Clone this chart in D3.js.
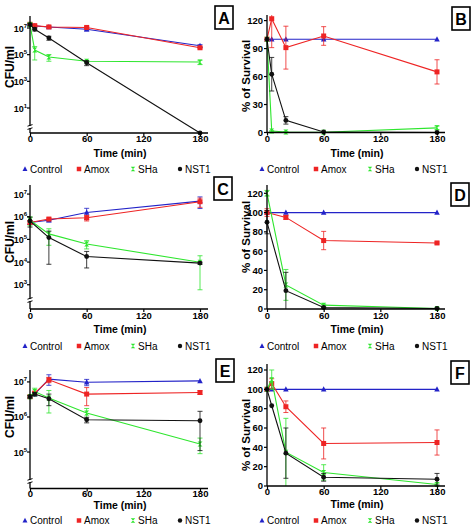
<!DOCTYPE html>
<html><head><meta charset="utf-8">
<script src="https://cdn.jsdelivr.net/npm/d3@7"></script>
<style>
body{margin:0;background:#fff}
svg{display:block}
text{font-family:"Liberation Sans",Arial,Helvetica,sans-serif}
</style>
</head><body>
<svg id="c" width="474" height="531"></svg>
<script>
// ---------------- DATA ----------------
const seriesNames = ["Control", "Amox", "SHa", "NST1"];
const seriesColors = ["#2323c8", "#ee2424", "#2ee62e", "#111111"];

const times5 = [0, 5, 20, 60, 180];
const times4 = [0, 20, 60, 180];
const xTicks = [0, 60, 120, 180];

// Panel A: CFU/ml (log)
const A_control = [1.8e7, 1.4e7, 1.2e7, 8.0e6, 4.7e5];
const A_amox    = [1.9e7, 1.5e7, 1.2e7, 1.1e7, 3.3e5];
const A_sha     = [1.8e7, 2.2e5, 6.6e4, 3.2e4, 2.8e4];
const A_nst1    = [1.8e7, 8.0e6, 1.8e6, 2.5e4, 0];
const A_err = [[4e6, 2e6, 2e6, 2e6, 1e5], [4e6, 2e6, 2e6, 2e6, 5e4], [5e6, 1.8e5, 3.4e4, 5e3, 1e4], [3e6, 2e6, 6e5, 1e4, 0]];

// Panel B: % of survival
const B_control = [100, 100, 100, 100, 100];
const B_amox    = [100, 122, 91, 103.5, 65];
const B_sha     = [100, 1.5, 0.5, 0.3, 5];
const B_nst1    = [100, 62.5, 13, 0.5, 0];
const B_err = [[0, 0, 0, 0, 0], [0, 31, 23, 10, 13], [0, 0.5, 0.5, 0, 2], [0, 18, 4, 0, 0]];

// Panel C: CFU/ml (log)
const C_control = [5.6e5, 7.0e5, 1.55e6, 4.9e6];
const C_amox    = [5.6e5, 7.9e5, 9.0e5, 4.6e6];
const C_sha     = [7.0e5, 1.75e5, 6.3e4, 9.8e3];
const C_nst1    = [6.5e5, 1.2e5, 1.75e4, 9.0e3];
const C_err = [[1e5, 1e5, 8e5, 2.6e6], [1e5, 1e5, 2.5e5, 2e6], [3e5, 1.2e5, 2.5e4, 9.2e3], [3e5, 1.12e5, 1.2e4, 1e3]];

// Panel D: % of survival
const D_control = [100, 100, 100, 100];
const D_amox    = [100, 95, 71, 68.5];
const D_sha     = [120, 25, 4, 0.5];
const D_nst1    = [90, 19, 1.5, 0.5];
const D_err = [[0, 0, 0, 0], [4, 2, 9.5, 1], [3, 16, 1, 0.5], [12, 19, 0.5, 0.5]];

// Panel E: CFU/ml (log)
const E_control = [3.8e6, 4.5e6, 1.2e7, 9.8e6, 1.07e7];
const E_amox    = [3.8e6, 4.8e6, 1.15e7, 4.5e6, 5.0e6];
const E_sha     = [3.8e6, 5.3e6, 3.5e6, 1.3e6, 1.7e5];
const E_nst1    = [3.8e6, 4.5e6, 3.3e6, 8.3e5, 7.8e5];
const E_err = [[3e5, 5e5, 4e6, 2e6, 0], [3e5, 5e5, 2e6, 2.4e6, 6e5], [3e5, 1.3e6, 2.2e6, 4.5e5, 8e4], [3e5, 5e5, 1.2e6, 1.5e5, 6.7e5]];

// Panel F: % of survival
const F_control = [100, 100, 100, 100, 100];
const F_amox    = [100, 106, 82, 44, 45];
const F_sha     = [100, 110, 35, 14, 1.5];
const F_nst1    = [100, 83, 34, 9, 7];
const F_err = [[0, 0, 0, 0, 0], [0, 5, 6, 16, 13], [0, 10, 35, 8, 1.5], [0, 0, 26, 4, 6]];

const logTicksA = [1, 3, 5, 7];
const logTicksC = [3, 4, 5, 6, 7];
const logTicksE = [5, 6, 7];
const pctTicksB = [0, 30, 60, 90, 120];
const pctTicksDF = [0, 20, 40, 60, 80, 100, 120];

// ---------------- LAYOUT ----------------
const panels = [
  {id: "A", ox: 0,   times: times5, series: [A_control, A_amox, A_sha, A_nst1], err: A_err, log: true,
   dom: [Math.pow(10, -0.875), Math.pow(10, 7.9)], yb: 133, yt: 16, ticks: logTicksA, brk: 127,
   title: "CFU/ml", tY: 67, box: [215, 6], tickY: 142, xtY: 157, legY: 169},
  {id: "B", ox: 237, times: times5, series: [B_control, B_amox, B_sha, B_nst1], err: B_err, log: false,
   dom: [0, 126], yb: 132.5, yt: 15, ticks: pctTicksB,
   title: "% of Survival", tY: 76, box: [452, 7], tickY: 142, xtY: 157, legY: 169},
  {id: "C", ox: 0,   times: times4, series: [C_control, C_amox, C_sha, C_nst1], err: C_err, log: true,
   dom: [Math.pow(10, 1.93), Math.pow(10, 7.4)], yb: 309, yt: 185, ticks: logTicksC, brk: 300,
   title: "CFU/ml", tY: 242, box: [214, 177], tickY: 318.5, xtY: 333, legY: 346},
  {id: "D", ox: 237, times: times4, series: [D_control, D_amox, D_sha, D_nst1], err: D_err, log: false,
   dom: [0, 128.6], yb: 309, yt: 185, ticks: pctTicksDF,
   title: "% of Survival", tY: 237, box: [451, 183], tickY: 318.5, xtY: 333, legY: 346},
  {id: "E", ox: 0,   times: times5, series: [E_control, E_amox, E_sha, E_nst1], err: E_err, log: true,
   dom: [Math.pow(10, 3.96), Math.pow(10, 7.34)], yb: 488.5, yt: 370, ticks: logTicksE, brk: 481,
   title: "CFU/ml", tY: 417, box: [216, 359], tickY: 497, xtY: 509, legY: 520.5},
  {id: "F", ox: 237, times: times5, series: [F_control, F_amox, F_sha, F_nst1], err: F_err, log: false,
   dom: [0, 126.2], yb: 486, yt: 364, ticks: pctTicksDF,
   title: "% of Survival", tY: 435, box: [451, 361], tickY: 495, xtY: 508, legY: 520.5}
];

const svg = d3.select("#c");
svg.append("rect").attr("width", 474).attr("height", 531).attr("fill", "#fff");

function markerPath(i, s) {
  if (i === 0) return `M0,${-s*0.6}L${s*0.55},${s*0.45}L${-s*0.55},${s*0.45}Z`;
  if (i === 1) return `M${-s/2},${-s/2}h${s}v${s}h${-s}Z`;
  if (i === 2) return `M${-s/2},${-s/2}L${s/2},${-s/2}L${-s/2},${s/2}L${s/2},${s/2}Z`;
  return d3.symbol(d3.symbolCircle, s * s * 0.75)();
}

panels.forEach(p => {
  const ax = p.ox + 30;
  const g = svg.append("g");
  const x = d3.scaleLinear().domain([0, 180]).range([ax, ax + 170]);
  const yS = p.log ? d3.scaleLog().domain(p.dom).range([p.yb, p.yt]).clamp(true)
                   : d3.scaleLinear().domain(p.dom).range([p.yb, p.yt]).clamp(true);
  const y = v => (p.log && v <= p.dom[0]) ? p.yb : yS(v);

  // series
  p.series.forEach((vals, si) => {
    const col = seriesColors[si];
    const pts = vals.map((v, i) => [x(p.times[i]), y(v)]);
    g.append("path").attr("d", d3.line()(pts)).attr("fill", "none")
      .attr("stroke", col).attr("stroke-width", 1.1);
    // error bars
    vals.forEach((v, i) => {
      const e = p.err[si][i];
      if (!e) return;
      const cx = x(p.times[i]);
      const hiV = v + e, loV = v - e;
      const y1 = y(hiV), y2 = y(loV);
      g.append("line").attr("x1", cx).attr("x2", cx).attr("y1", y1).attr("y2", y2)
        .attr("stroke", col).attr("stroke-width", 1).attr("opacity", 0.8);
      if (hiV <= p.dom[1]) g.append("line").attr("x1", cx - 2.5).attr("x2", cx + 2.5).attr("y1", y1).attr("y2", y1)
        .attr("stroke", col).attr("stroke-width", 1).attr("opacity", 0.8);
      if (loV > p.dom[0]) g.append("line").attr("x1", cx - 2.5).attr("x2", cx + 2.5).attr("y1", y2).attr("y2", y2)
        .attr("stroke", col).attr("stroke-width", 1).attr("opacity", 0.8);
    });
    pts.forEach(pt => {
      g.append("path").attr("d", markerPath(si, 5)).attr("transform", `translate(${pt[0]},${pt[1]})`)
        .attr("fill", col);
    });
  });

  // axes
  const xAxis = d3.axisBottom(x).tickValues(xTicks).tickSize(3).tickSizeOuter(0).tickFormat(d3.format("d"));
  const xg = g.append("g").attr("transform", `translate(0,${p.yb})`).call(xAxis);
  xg.select(".domain").attr("d", `M${ax},0H${ax + 178}`).attr("stroke-width", 1.3);
  xg.selectAll(".tick line").attr("stroke-width", 1.2);
  xg.selectAll(".tick text").attr("y", p.tickY - p.yb).attr("dy", 0)
    .attr("font-size", 9.5).attr("font-weight", "bold").attr("fill", "#000").attr("font-family", "Liberation Sans, Arial, sans-serif");

  const yg = g.append("g");
  yg.append("line").attr("x1", ax).attr("x2", ax).attr("y1", p.yt).attr("y2", p.yb)
    .attr("stroke", "#000").attr("stroke-width", 1.3);
  if (p.log) {
    p.ticks.forEach(L => {
      const ty = yS(Math.pow(10, L));
      yg.append("line").attr("x1", ax - 3).attr("x2", ax).attr("y1", ty).attr("y2", ty).attr("stroke", "#000").attr("stroke-width", 1.2);
      const t = yg.append("text").attr("x", ax - 3).attr("y", ty + 3.5).attr("text-anchor", "end")
        .attr("font-size", 9).attr("font-weight", "bold");
      t.append("tspan").text("10");
      t.append("tspan").attr("dy", -4).attr("font-size", 6).text(L);
    });
    // axis break
    yg.append("rect").attr("x", ax - 2).attr("y", p.brk - 1.2).attr("width", 4).attr("height", 2.4).attr("fill", "#fff");
    [p.brk - 1.6, p.brk + 1.6].forEach(by => {
      yg.append("line").attr("x1", ax - 2.5).attr("x2", ax + 2.5).attr("y1", by + 0.8).attr("y2", by - 0.8)
        .attr("stroke", "#000").attr("stroke-width", 1);
    });
  } else {
    p.ticks.forEach(v => {
      const ty = yS(v);
      yg.append("line").attr("x1", ax - 3).attr("x2", ax).attr("y1", ty).attr("y2", ty).attr("stroke", "#000").attr("stroke-width", 1.2);
      yg.append("text").attr("x", ax - 4).attr("y", ty + 3.4).attr("text-anchor", "end")
        .attr("font-size", 9.5).attr("font-weight", "bold").text(v);
    });
  }

  // titles
  g.append("text").attr("x", ax + 90).attr("y", p.xtY).attr("text-anchor", "middle")
    .attr("font-size", 10.5).attr("font-weight", "bold").text("Time (min)");
  g.append("text").attr("transform", `translate(${p.ox + (p.log ? 14 : 13)},${p.tY}) rotate(-90)`)
    .attr("text-anchor", "middle").attr("font-size", p.log ? 12 : 11.5).attr("font-weight", "bold").text(p.title);

  // panel letter box
  g.append("rect").attr("x", p.box[0]).attr("y", p.box[1]).attr("width", 18).attr("height", 23)
    .attr("fill", "#fff").attr("stroke", "#000").attr("stroke-width", 1.6);
  g.append("text").attr("x", p.box[0] + 9).attr("y", p.box[1] + 17.5).attr("text-anchor", "middle")
    .attr("font-size", 16).attr("font-weight", "bold").text(p.id);

  // legend
  const legX = [25, 79, 133, 180];
  seriesNames.forEach((n, si) => {
    const lx = p.ox + legX[si];
    g.append("path").attr("d", markerPath(si, 4.5)).attr("transform", `translate(${lx},${p.legY})`)
      .attr("fill", seriesColors[si]);
    g.append("text").attr("x", lx + 5).attr("y", p.legY + 3.6).attr("font-size", 10).text(n);
  });
});
</script>
</body></html>
